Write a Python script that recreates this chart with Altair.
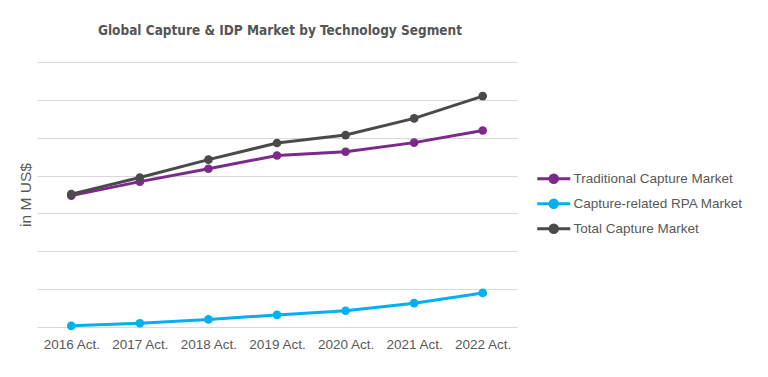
import altair as alt
import pandas as pd

years = ["2016 Act.", "2017 Act.", "2018 Act.", "2019 Act.", "2020 Act.", "2021 Act.", "2022 Act."]
traditional = [3470, 3840, 4180, 4530, 4630, 4870, 5190]
rpa = [30, 100, 200, 320, 430, 630, 900]
total = [3510, 3950, 4420, 4860, 5070, 5510, 6100]

series = ["Traditional Capture Market", "Capture-related RPA Market", "Total Capture Market"]
colors = ["#7b2a8a", "#00b0f0", "#4a4a4a"]

rows = []
for name, vals in zip(series, [traditional, rpa, total]):
    for y, v in zip(years, vals):
        rows.append({"year": y, "series": name, "value": v})
df = pd.DataFrame(rows)

legend_path = "M-3.3,0L3.3,0M-0.75,0A0.75,0.75,0,1,1,0.75,0A0.75,0.75,0,1,1,-0.75,0Z"

color = alt.Color(
    "series:N",
    scale=alt.Scale(domain=series, range=colors),
    sort=series,
    legend=alt.Legend(
        title=None,
        orient="none",
        legendX=510,
        legendY=110,
        symbolType=legend_path,
        symbolSize=100,
        symbolStrokeWidth=3,
        labelOffset=13,
        labelFont="Liberation Sans",
        labelFontSize=13.5,
        labelColor="#595959",
        labelLimit=300,
        rowPadding=5,
    ),
)

x = alt.X(
    "year:N",
    sort=years,
    scale=alt.Scale(padding=0.5),
    axis=alt.Axis(
        title=None,
        labelAngle=0,
        labelFont="Liberation Sans",
        labelFontSize=13.5,
        labelColor="#595959",
        labelPadding=10,
        ticks=False,
        domain=False,
        grid=False,
    ),
)
y = alt.Y(
    "value:Q",
    scale=alt.Scale(domain=[0, 7000], nice=False),
    axis=alt.Axis(
        title="in M US$",
        titleFont="Liberation Sans",
        titleFontSize=15.5,
        titleFontWeight="normal",
        titleColor="#595959",
        titlePadding=4,
        labels=False,
        ticks=False,
        domain=False,
        grid=True,
        gridColor="#d9d9d9",
        gridWidth=1.2,
        values=[0, 1000, 2000, 3000, 4000, 5000, 6000, 7000],
    ),
)

base = alt.Chart(df).encode(x=x, y=y, color=color, detail="series:N")
lines = base.mark_line(strokeWidth=3)
points = base.mark_point(filled=True, size=75, opacity=1)

chart = (
    alt.layer(lines, points)
    .properties(
        width=480,
        height=265,
        title=alt.TitleParams(
            "Global Capture & IDP Market by Technology Segment",
            font="Liberation Sans Narrow, DejaVu Sans Condensed, Liberation Sans",
            fontSize=13.5,
            fontWeight="bold",
            color="#555555",
            offset=25,
            dx=3,
        ),
        autosize=alt.AutoSizeParams(type="none"),
        padding={"left": 37, "top": 62, "right": 251, "bottom": 50},
    )
    .configure_view(stroke=None)
)

chart.save("out.html", embed_options={"renderer": "svg", "actions": False})
